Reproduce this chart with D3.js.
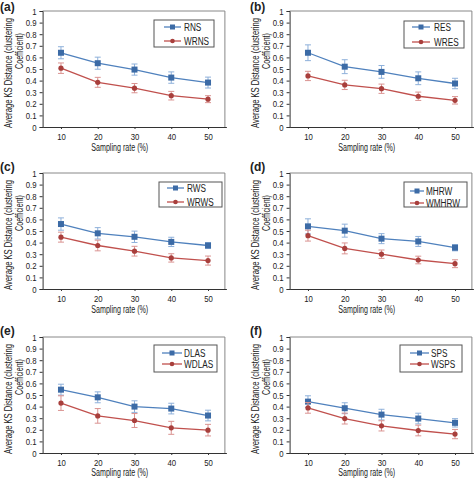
<!DOCTYPE html>
<html><head><meta charset="utf-8">
<script src="https://cdn.jsdelivr.net/npm/d3@7"></script>
<style>
html,body{margin:0;padding:0;background:#fff;}
svg{display:block;}
text{font-family:"Liberation Sans",Arial,sans-serif;fill:#222;}
</style></head>
<body>
<svg id="chart" width="474" height="479"></svg>
<script>
// ---- data ----
const samplingRates = [10, 20, 30, 40, 50];
const yTickValues = [0, 0.1, 0.2, 0.3, 0.4, 0.5, 0.6, 0.7, 0.8, 0.9, 1];
const panelLabels = ["(a)", "(b)", "(c)", "(d)", "(e)", "(f)"];
const blueNames = ["RNS", "RES", "RWS", "MHRW", "DLAS", "SPS"];
const redNames = ["WRNS", "WRES", "WRWS", "WMHRW", "WDLAS", "WSPS"];
const blueMeans = [
  [0.64, 0.55, 0.495, 0.426, 0.383],
  [0.64, 0.52, 0.475, 0.42, 0.375],
  [0.56, 0.48, 0.45, 0.406, 0.375],
  [0.54, 0.503, 0.434, 0.41, 0.356],
  [0.546, 0.48, 0.40, 0.383, 0.323],
  [0.443, 0.386, 0.331, 0.297, 0.26]
];
const blueErrors = [
  [0.052, 0.052, 0.048, 0.049, 0.047],
  [0.068, 0.06, 0.055, 0.055, 0.045],
  [0.053, 0.049, 0.049, 0.04, 0.025],
  [0.065, 0.056, 0.043, 0.043, 0.027],
  [0.047, 0.047, 0.05, 0.046, 0.046],
  [0.05, 0.047, 0.046, 0.046, 0.036]
];
const redMeans = [
  [0.507, 0.385, 0.335, 0.27, 0.24],
  [0.44, 0.363, 0.33, 0.265, 0.23],
  [0.447, 0.375, 0.326, 0.268, 0.245],
  [0.46, 0.35, 0.30, 0.25, 0.218],
  [0.43, 0.32, 0.28, 0.217, 0.197],
  [0.389, 0.297, 0.234, 0.194, 0.163]
];
const redErrors = [
  [0.045, 0.043, 0.04, 0.037, 0.03],
  [0.04, 0.04, 0.04, 0.036, 0.032],
  [0.043, 0.046, 0.042, 0.036, 0.039],
  [0.047, 0.047, 0.036, 0.033, 0.034],
  [0.063, 0.063, 0.06, 0.056, 0.05],
  [0.046, 0.047, 0.044, 0.046, 0.04]
];

// ---- layout ----
const colLeft = [42.6, 289.6];
const colRight = [226.4, 473.4];
const rowTop = [11, 173, 337];
const rowBottom = [127, 289, 453];
const legendBoxes = [
  {x: 154, y: 20, w: 60, h: 27, y1: 27, y2: 41, lx1: 164, lx2: 181, tx: 184},
  {x: 404, y: 21, w: 60, h: 27, y1: 27, y2: 42, lx1: 412, lx2: 430, tx: 434},
  {x: 159, y: 182, w: 63, h: 25, y1: 188, y2: 202, lx1: 167, lx2: 184, tx: 187},
  {x: 404, y: 182, w: 63, h: 25, y1: 191, y2: 203, lx1: 410, lx2: 424, tx: 426},
  {x: 154, y: 345, w: 63, h: 27, y1: 353, y2: 364, lx1: 162, lx2: 182, tx: 184},
  {x: 400, y: 345, w: 62, h: 27, y1: 353, y2: 364, lx1: 410, lx2: 429, tx: 431}
];
const blue = "#4F81BD", blueDark = "#3C6BA6", blueErr = "#8EB0DA";
const red = "#C0504D", redDark = "#A83F3C", redErr = "#DA9391";

const svg = d3.select("#chart");

function condense(sel, f) {
  sel.each(function () {
    const w = this.getComputedTextLength();
    d3.select(this).attr("textLength", w * f).attr("lengthAdjust", "spacingAndGlyphs");
  });
}
// text squeezed along its reading direction by a scale transform, to a target length
function squeezedText(g, tx, ty, rot, size, target, str) {
  const t = g.append("text").attr("text-anchor", "middle").attr("font-size", size).text(str);
  const w = t.node().getComputedTextLength();
  const f = Math.min(1, target / w);
  t.attr("transform", `translate(${tx},${ty}) rotate(${rot}) scale(${f},1)`);
  return t;
}

panelLabels.forEach((lab, i) => {
  const col = i % 2, row = Math.floor(i / 2);
  const x = d3.scaleLinear().domain([5, 55]).range([colLeft[col], colRight[col]]);
  const y = d3.scaleLinear().domain([0, 1]).range([rowBottom[row], rowTop[row]]);
  const g = svg.append("g");
  const x0 = x.range()[0], x1 = x.range()[1] - 1.5;
  const yb = y.range()[0], yt = y.range()[1];

  // frame (top/right)
  g.append("path").attr("d", `M${x0},${yt}H${x1}V${yb}`)
    .attr("fill", "none").attr("stroke", "#888").attr("stroke-width", 1);

  // y axis
  const ya = g.append("g").attr("transform", `translate(${x0},0)`)
    .call(d3.axisLeft(y).tickValues(yTickValues).tickSize(3).tickPadding(3)
      .tickFormat(d => d3.format("")(+d.toFixed(1))));
  ya.select(".domain").attr("stroke", "#333");
  ya.selectAll(".tick line").attr("stroke", "#333");
  ya.selectAll("text").attr("font-size", 9.5).attr("fill", "#222").call(condense, 0.82);

  // x axis
  const xa = g.append("g").attr("transform", `translate(0,${yb})`)
    .call(d3.axisBottom(x).tickValues(samplingRates).tickSize(2).tickPadding(4).tickSizeOuter(0));
  xa.select(".domain").attr("stroke", "#333");
  xa.selectAll(".tick line").attr("stroke", "#333");
  xa.selectAll("text").attr("font-size", 9.5).attr("fill", "#222").call(condense, 0.82);

  // axis titles
  const cx = (x0 + x1) / 2;
  squeezedText(g, cx - 14, yb + (row === 2 ? 22.5 : 24), 0, 10, 57, "Sampling rate (%)");
  const cy = (yb + yt) / 2;
  squeezedText(g, x0 - 31, cy + 4, -90, 10, 110, "Average KS Distance (clustering");
  squeezedText(g, x0 - 20, cy - 18, -90, 10, 36, "Coefficient)");

  // panel label
  g.append("text").attr("x", col === 0 ? 0 : 250).attr("y", rowTop[row] + (row === 0 ? 0 : -2))
    .attr("font-family", "Liberation Serif, Times New Roman, serif")
    .attr("font-weight", "bold").attr("font-size", 12).attr("fill", "#111")
    .text(lab);

  const series = [
    {means: blueMeans[i], errs: blueErrors[i], line: blue, mark: blueDark, err: blueErr, shape: "square", name: blueNames[i]},
    {means: redMeans[i], errs: redErrors[i], line: red, mark: redDark, err: redErr, shape: "circle", name: redNames[i]}
  ];
  const line = d3.line().x((d, k) => x(samplingRates[k])).y(d => y(d));

  series.forEach(s => {
    const pts = s.means.map((m, k) => ({x: samplingRates[k], m, e: s.errs[k]}));
    const eb = g.append("g").attr("stroke", s.err).attr("stroke-width", 1).attr("fill", "none");
    eb.selectAll("path").data(pts).join("path")
      .attr("d", d => {
        const px = x(d.x), t = y(d.m + d.e), b = y(d.m - d.e);
        return `M${px - 3},${t}H${px + 3}M${px},${t}V${b}M${px - 3},${b}H${px + 3}`;
      });
    g.append("path").attr("d", line(s.means)).attr("fill", "none")
      .attr("stroke", s.line).attr("stroke-width", 1.3);
    if (s.shape === "square") {
      g.selectAll(null).data(pts).join("rect")
        .attr("x", d => x(d.x) - 3).attr("y", d => y(d.m) - 3)
        .attr("width", 6).attr("height", 6).attr("fill", s.mark);
    } else {
      g.selectAll(null).data(pts).join("circle")
        .attr("cx", d => x(d.x)).attr("cy", d => y(d.m)).attr("r", 2.6).attr("fill", s.mark);
    }
  });

  // legend
  const L = legendBoxes[i];
  g.append("rect").attr("x", L.x).attr("y", L.y).attr("width", L.w).attr("height", L.h)
    .attr("fill", "#fff").attr("stroke", "#555").attr("stroke-width", 1);
  [[L.y1, series[0]], [L.y2, series[1]]].forEach(([ly, s]) => {
    g.append("line").attr("x1", L.lx1).attr("x2", L.lx2).attr("y1", ly).attr("y2", ly)
      .attr("stroke", s.line).attr("stroke-width", 1.3);
    const mx = (L.lx1 + L.lx2) / 2;
    if (s.shape === "square") {
      g.append("rect").attr("x", mx - 2.5).attr("y", ly - 2.5).attr("width", 5).attr("height", 5).attr("fill", s.mark);
    } else {
      g.append("circle").attr("cx", mx).attr("cy", ly).attr("r", 2.3).attr("fill", s.mark);
    }
    g.append("text").attr("x", L.tx).attr("y", ly + 3.5).attr("font-size", 10).text(s.name)
      .call(condense, 0.82);
  });
});
</script>
</body></html>
